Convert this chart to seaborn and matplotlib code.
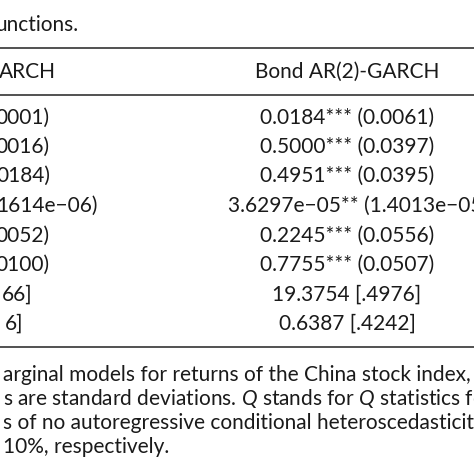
import matplotlib
matplotlib.use('Agg')
import matplotlib.pyplot as plt
import seaborn as sns

sns.set_theme(style='white')
plt.rcParams['font.family'] = ['Lato', 'DejaVu Sans']

# table content (cropped view)
left_cells = ['0001)', '0016)', '0184)', '1614e\u221206)', '0052)', '0100)', '66]', '6]']
left_ends = [50, 50, 50, 98, 50, 50, 33, 23]
right_cells = ['0.0184*** (0.0061)', '0.5000*** (0.0397)', '0.4951*** (0.0395)',
               '3.6297e\u221205** (1.4013e\u221205)', '0.2245*** (0.0556)',
               '0.7755*** (0.0507)', '19.3754 [.4976]', '0.6387 [.4242]']
row_y = [118, 147, 176, 206, 236, 265, 295, 324]
notes = ['arginal models for returns of the China stock index, gove',
         's are standard deviations. $\\mathit{Q}$ stands for $\\mathit{Q}$ statistics for tes',
         's of no autoregressive conditional heteroscedasticity. LM',
         '10%, respectively.']
note_y = [375, 399, 423, 447]

fig = plt.figure(figsize=(4.74, 4.74), dpi=100)
ax = fig.add_axes([0, 0, 1, 1])
ax.set_xlim(0, 474)
ax.set_ylim(474, 0)
ax.axis('off')

fs = 15
col = '#1a1a1a'
plt.rcParams['mathtext.fontset'] = 'custom'
plt.rcParams['mathtext.it'] = 'Lato:italic'
ax.text(-4, 25, 'unctions.', fontsize=fs, va='center', ha='left', color=col)
for y in [48, 95, 347]:
    ax.axhline(y, color='#333333', lw=1.2)
ax.text(56, 72, 'ARCH', fontsize=fs, va='center', ha='right', color=col)
ax.text(347, 72, 'Bond AR(2)-GARCH', fontsize=fs, va='center', ha='center', color=col)
for t, x, y in zip(left_cells, left_ends, row_y):
    ax.text(x, y, t, fontsize=fs, va='center', ha='right', color=col)
for t, y in zip(right_cells, row_y):
    if '3.6297' in t:
        ax.text(228, y, t, fontsize=fs, va='center', ha='left', color=col)
    else:
        ax.text(347, y, t, fontsize=fs, va='center', ha='center', color=col)
for t, y in zip(notes, note_y):
    ax.text(3, y, t, fontsize=fs, va='center', ha='left', color=col)

fig.savefig('out.png', dpi=100, facecolor='white')
